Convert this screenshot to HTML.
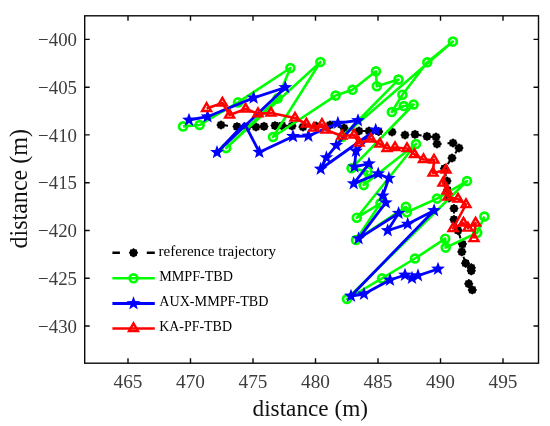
<!DOCTYPE html>
<html lang="en"><head><meta charset="utf-8"><title>Trajectory comparison</title>
<style>html,body{margin:0;padding:0;background:#fff}svg{display:block}</style></head>
<body>
<svg width="550" height="426" viewBox="0 0 550 426">
<rect width="550" height="426" fill="#fff"/>
<polyline points="221.0,125.0 237.0,126.6 247.0,127.0 256.0,127.0 264.0,126.4 275.0,125.6 282.0,125.6 292.0,126.0 303.0,127.0 316.0,126.0 330.0,125.0 344.0,128.0 359.0,131.0 369.0,131.0 378.5,131.5 392.0,132.0 405.0,135.0 415.0,134.4 427.0,136.4 436.0,137.0 437.0,144.0 453.0,143.0 459.0,148.0 452.0,158.0 444.5,168.5 447.0,181.0 447.5,190.0 449.0,198.0 454.0,208.5 454.0,219.5 458.0,230.5 462.4,244.1 461.8,251.8 465.6,263.2 471.3,267.8 471.3,270.8 468.7,283.8 472.3,289.9" fill="none" stroke="#000" stroke-width="2" stroke-dasharray="7 6"/>
<g fill="#000"><polygon points="225.7,125.0 224.6,126.5 224.3,128.3 222.5,128.6 221.0,129.7 219.5,128.6 217.7,128.3 217.4,126.5 216.3,125.0 217.4,123.5 217.7,121.7 219.5,121.4 221.0,120.3 222.5,121.4 224.3,121.7 224.6,123.5"/><polygon points="241.7,126.6 240.6,128.1 240.3,129.9 238.5,130.2 237.0,131.3 235.5,130.2 233.7,129.9 233.4,128.1 232.3,126.6 233.4,125.1 233.7,123.3 235.5,123.0 237.0,121.9 238.5,123.0 240.3,123.3 240.6,125.1"/><polygon points="251.7,127.0 250.6,128.5 250.3,130.3 248.5,130.6 247.0,131.7 245.5,130.6 243.7,130.3 243.4,128.5 242.3,127.0 243.4,125.5 243.7,123.7 245.5,123.4 247.0,122.3 248.5,123.4 250.3,123.7 250.6,125.5"/><polygon points="260.7,127.0 259.6,128.5 259.3,130.3 257.5,130.6 256.0,131.7 254.5,130.6 252.7,130.3 252.4,128.5 251.3,127.0 252.4,125.5 252.7,123.7 254.5,123.4 256.0,122.3 257.5,123.4 259.3,123.7 259.6,125.5"/><polygon points="268.7,126.4 267.6,127.9 267.3,129.7 265.5,130.0 264.0,131.1 262.5,130.0 260.7,129.7 260.4,127.9 259.3,126.4 260.4,124.9 260.7,123.1 262.5,122.8 264.0,121.7 265.5,122.8 267.3,123.1 267.6,124.9"/><polygon points="279.7,125.6 278.6,127.1 278.3,128.9 276.5,129.2 275.0,130.3 273.5,129.2 271.7,128.9 271.4,127.1 270.3,125.6 271.4,124.1 271.7,122.3 273.5,122.0 275.0,120.9 276.5,122.0 278.3,122.3 278.6,124.1"/><polygon points="286.7,125.6 285.6,127.1 285.3,128.9 283.5,129.2 282.0,130.3 280.5,129.2 278.7,128.9 278.4,127.1 277.3,125.6 278.4,124.1 278.7,122.3 280.5,122.0 282.0,120.9 283.5,122.0 285.3,122.3 285.6,124.1"/><polygon points="296.7,126.0 295.6,127.5 295.3,129.3 293.5,129.6 292.0,130.7 290.5,129.6 288.7,129.3 288.4,127.5 287.3,126.0 288.4,124.5 288.7,122.7 290.5,122.4 292.0,121.3 293.5,122.4 295.3,122.7 295.6,124.5"/><polygon points="307.7,127.0 306.6,128.5 306.3,130.3 304.5,130.6 303.0,131.7 301.5,130.6 299.7,130.3 299.4,128.5 298.3,127.0 299.4,125.5 299.7,123.7 301.5,123.4 303.0,122.3 304.5,123.4 306.3,123.7 306.6,125.5"/><polygon points="320.7,126.0 319.6,127.5 319.3,129.3 317.5,129.6 316.0,130.7 314.5,129.6 312.7,129.3 312.4,127.5 311.3,126.0 312.4,124.5 312.7,122.7 314.5,122.4 316.0,121.3 317.5,122.4 319.3,122.7 319.6,124.5"/><polygon points="334.7,125.0 333.6,126.5 333.3,128.3 331.5,128.6 330.0,129.7 328.5,128.6 326.7,128.3 326.4,126.5 325.3,125.0 326.4,123.5 326.7,121.7 328.5,121.4 330.0,120.3 331.5,121.4 333.3,121.7 333.6,123.5"/><polygon points="348.7,128.0 347.6,129.5 347.3,131.3 345.5,131.6 344.0,132.7 342.5,131.6 340.7,131.3 340.4,129.5 339.3,128.0 340.4,126.5 340.7,124.7 342.5,124.4 344.0,123.3 345.5,124.4 347.3,124.7 347.6,126.5"/><polygon points="363.7,131.0 362.6,132.5 362.3,134.3 360.5,134.6 359.0,135.7 357.5,134.6 355.7,134.3 355.4,132.5 354.3,131.0 355.4,129.5 355.7,127.7 357.5,127.4 359.0,126.3 360.5,127.4 362.3,127.7 362.6,129.5"/><polygon points="373.7,131.0 372.6,132.5 372.3,134.3 370.5,134.6 369.0,135.7 367.5,134.6 365.7,134.3 365.4,132.5 364.3,131.0 365.4,129.5 365.7,127.7 367.5,127.4 369.0,126.3 370.5,127.4 372.3,127.7 372.6,129.5"/><polygon points="383.2,131.5 382.1,133.0 381.8,134.8 380.0,135.1 378.5,136.2 377.0,135.1 375.2,134.8 374.9,133.0 373.8,131.5 374.9,130.0 375.2,128.2 377.0,127.9 378.5,126.8 380.0,127.9 381.8,128.2 382.1,130.0"/><polygon points="396.7,132.0 395.6,133.5 395.3,135.3 393.5,135.6 392.0,136.7 390.5,135.6 388.7,135.3 388.4,133.5 387.3,132.0 388.4,130.5 388.7,128.7 390.5,128.4 392.0,127.3 393.5,128.4 395.3,128.7 395.6,130.5"/><polygon points="409.7,135.0 408.6,136.5 408.3,138.3 406.5,138.6 405.0,139.7 403.5,138.6 401.7,138.3 401.4,136.5 400.3,135.0 401.4,133.5 401.7,131.7 403.5,131.4 405.0,130.3 406.5,131.4 408.3,131.7 408.6,133.5"/><polygon points="419.7,134.4 418.6,135.9 418.3,137.7 416.5,138.0 415.0,139.1 413.5,138.0 411.7,137.7 411.4,135.9 410.3,134.4 411.4,132.9 411.7,131.1 413.5,130.8 415.0,129.7 416.5,130.8 418.3,131.1 418.6,132.9"/><polygon points="431.7,136.4 430.6,137.9 430.3,139.7 428.5,140.0 427.0,141.1 425.5,140.0 423.7,139.7 423.4,137.9 422.3,136.4 423.4,134.9 423.7,133.1 425.5,132.8 427.0,131.7 428.5,132.8 430.3,133.1 430.6,134.9"/><polygon points="440.7,137.0 439.6,138.5 439.3,140.3 437.5,140.6 436.0,141.7 434.5,140.6 432.7,140.3 432.4,138.5 431.3,137.0 432.4,135.5 432.7,133.7 434.5,133.4 436.0,132.3 437.5,133.4 439.3,133.7 439.6,135.5"/><polygon points="441.7,144.0 440.6,145.5 440.3,147.3 438.5,147.6 437.0,148.7 435.5,147.6 433.7,147.3 433.4,145.5 432.3,144.0 433.4,142.5 433.7,140.7 435.5,140.4 437.0,139.3 438.5,140.4 440.3,140.7 440.6,142.5"/><polygon points="457.7,143.0 456.6,144.5 456.3,146.3 454.5,146.6 453.0,147.7 451.5,146.6 449.7,146.3 449.4,144.5 448.3,143.0 449.4,141.5 449.7,139.7 451.5,139.4 453.0,138.3 454.5,139.4 456.3,139.7 456.6,141.5"/><polygon points="463.7,148.0 462.6,149.5 462.3,151.3 460.5,151.6 459.0,152.7 457.5,151.6 455.7,151.3 455.4,149.5 454.3,148.0 455.4,146.5 455.7,144.7 457.5,144.4 459.0,143.3 460.5,144.4 462.3,144.7 462.6,146.5"/><polygon points="456.7,158.0 455.6,159.5 455.3,161.3 453.5,161.6 452.0,162.7 450.5,161.6 448.7,161.3 448.4,159.5 447.3,158.0 448.4,156.5 448.7,154.7 450.5,154.4 452.0,153.3 453.5,154.4 455.3,154.7 455.6,156.5"/><polygon points="449.2,168.5 448.1,170.0 447.8,171.8 446.0,172.1 444.5,173.2 443.0,172.1 441.2,171.8 440.9,170.0 439.8,168.5 440.9,167.0 441.2,165.2 443.0,164.9 444.5,163.8 446.0,164.9 447.8,165.2 448.1,167.0"/><polygon points="451.7,181.0 450.6,182.5 450.3,184.3 448.5,184.6 447.0,185.7 445.5,184.6 443.7,184.3 443.4,182.5 442.3,181.0 443.4,179.5 443.7,177.7 445.5,177.4 447.0,176.3 448.5,177.4 450.3,177.7 450.6,179.5"/><polygon points="452.2,190.0 451.1,191.5 450.8,193.3 449.0,193.6 447.5,194.7 446.0,193.6 444.2,193.3 443.9,191.5 442.8,190.0 443.9,188.5 444.2,186.7 446.0,186.4 447.5,185.3 449.0,186.4 450.8,186.7 451.1,188.5"/><polygon points="453.7,198.0 452.6,199.5 452.3,201.3 450.5,201.6 449.0,202.7 447.5,201.6 445.7,201.3 445.4,199.5 444.3,198.0 445.4,196.5 445.7,194.7 447.5,194.4 449.0,193.3 450.5,194.4 452.3,194.7 452.6,196.5"/><polygon points="458.7,208.5 457.6,210.0 457.3,211.8 455.5,212.1 454.0,213.2 452.5,212.1 450.7,211.8 450.4,210.0 449.3,208.5 450.4,207.0 450.7,205.2 452.5,204.9 454.0,203.8 455.5,204.9 457.3,205.2 457.6,207.0"/><polygon points="458.7,219.5 457.6,221.0 457.3,222.8 455.5,223.1 454.0,224.2 452.5,223.1 450.7,222.8 450.4,221.0 449.3,219.5 450.4,218.0 450.7,216.2 452.5,215.9 454.0,214.8 455.5,215.9 457.3,216.2 457.6,218.0"/><polygon points="462.7,230.5 461.6,232.0 461.3,233.8 459.5,234.1 458.0,235.2 456.5,234.1 454.7,233.8 454.4,232.0 453.3,230.5 454.4,229.0 454.7,227.2 456.5,226.9 458.0,225.8 459.5,226.9 461.3,227.2 461.6,229.0"/><polygon points="467.1,244.1 466.0,245.6 465.7,247.4 463.9,247.7 462.4,248.8 460.9,247.7 459.1,247.4 458.8,245.6 457.7,244.1 458.8,242.6 459.1,240.8 460.9,240.5 462.4,239.4 463.9,240.5 465.7,240.8 466.0,242.6"/><polygon points="466.5,251.8 465.4,253.3 465.1,255.1 463.3,255.4 461.8,256.5 460.3,255.4 458.5,255.1 458.2,253.3 457.1,251.8 458.2,250.3 458.5,248.5 460.3,248.2 461.8,247.1 463.3,248.2 465.1,248.5 465.4,250.3"/><polygon points="470.3,263.2 469.2,264.7 468.9,266.5 467.1,266.8 465.6,267.9 464.1,266.8 462.3,266.5 462.0,264.7 460.9,263.2 462.0,261.7 462.3,259.9 464.1,259.6 465.6,258.5 467.1,259.6 468.9,259.9 469.2,261.7"/><polygon points="476.0,267.8 474.9,269.3 474.6,271.1 472.8,271.4 471.3,272.5 469.8,271.4 468.0,271.1 467.7,269.3 466.6,267.8 467.7,266.3 468.0,264.5 469.8,264.2 471.3,263.1 472.8,264.2 474.6,264.5 474.9,266.3"/><polygon points="476.0,270.8 474.9,272.3 474.6,274.1 472.8,274.4 471.3,275.5 469.8,274.4 468.0,274.1 467.7,272.3 466.6,270.8 467.7,269.3 468.0,267.5 469.8,267.2 471.3,266.1 472.8,267.2 474.6,267.5 474.9,269.3"/><polygon points="473.4,283.8 472.3,285.3 472.0,287.1 470.2,287.4 468.7,288.5 467.2,287.4 465.4,287.1 465.1,285.3 464.0,283.8 465.1,282.3 465.4,280.5 467.2,280.2 468.7,279.1 470.2,280.2 472.0,280.5 472.3,282.3"/><polygon points="477.0,289.9 475.9,291.4 475.6,293.2 473.8,293.5 472.3,294.6 470.8,293.5 469.0,293.2 468.7,291.4 467.6,289.9 468.7,288.4 469.0,286.6 470.8,286.3 472.3,285.2 473.8,286.3 475.6,286.6 475.9,288.4"/></g>
<polyline points="183.0,126.4 199.6,125.0 238.0,102.4 290.4,68.0 277.6,98.4 226.2,148.1 320.4,62.0 273.0,137.0 335.6,95.6 352.5,89.8 376.0,71.3 376.8,86.2 398.5,79.6 342.0,137.0 452.9,41.6 427.3,62.3 402.4,94.7 391.8,112.0 403.8,106.0 413.6,104.5 351.5,168.3 367.5,171.4 363.7,185.1 416.0,144.0 356.8,217.7 380.5,203.3 356.0,240.0 405.9,206.8 406.8,212.3 437.0,198.6 467.0,181.0 347.0,299.0 382.0,278.4 415.0,258.5 445.2,238.7 445.7,247.6 477.2,232.8 484.4,216.5" fill="none" stroke="#00ff00" stroke-width="2.6" stroke-linejoin="round"/>
<g fill="none" stroke="#00ff00" stroke-width="2.7"><circle cx="183.0" cy="126.4" r="3.95"/><circle cx="199.6" cy="125.0" r="3.95"/><circle cx="238.0" cy="102.4" r="3.95"/><circle cx="290.4" cy="68.0" r="3.95"/><circle cx="277.6" cy="98.4" r="3.95"/><circle cx="226.2" cy="148.1" r="3.95"/><circle cx="320.4" cy="62.0" r="3.95"/><circle cx="273.0" cy="137.0" r="3.95"/><circle cx="335.6" cy="95.6" r="3.95"/><circle cx="352.5" cy="89.8" r="3.95"/><circle cx="376.0" cy="71.3" r="3.95"/><circle cx="376.8" cy="86.2" r="3.95"/><circle cx="398.5" cy="79.6" r="3.95"/><circle cx="342.0" cy="137.0" r="3.95"/><circle cx="452.9" cy="41.6" r="3.95"/><circle cx="427.3" cy="62.3" r="3.95"/><circle cx="402.4" cy="94.7" r="3.95"/><circle cx="391.8" cy="112.0" r="3.95"/><circle cx="403.8" cy="106.0" r="3.95"/><circle cx="413.6" cy="104.5" r="3.95"/><circle cx="351.5" cy="168.3" r="3.95"/><circle cx="367.5" cy="171.4" r="3.95"/><circle cx="363.7" cy="185.1" r="3.95"/><circle cx="416.0" cy="144.0" r="3.95"/><circle cx="356.8" cy="217.7" r="3.95"/><circle cx="380.5" cy="203.3" r="3.95"/><circle cx="356.0" cy="240.0" r="3.95"/><circle cx="405.9" cy="206.8" r="3.95"/><circle cx="406.8" cy="212.3" r="3.95"/><circle cx="437.0" cy="198.6" r="3.95"/><circle cx="467.0" cy="181.0" r="3.95"/><circle cx="347.0" cy="299.0" r="3.95"/><circle cx="382.0" cy="278.4" r="3.95"/><circle cx="415.0" cy="258.5" r="3.95"/><circle cx="445.2" cy="238.7" r="3.95"/><circle cx="445.7" cy="247.6" r="3.95"/><circle cx="477.2" cy="232.8" r="3.95"/><circle cx="484.4" cy="216.5" r="3.95"/></g>
<polyline points="189.0,120.0 207.5,116.7 253.6,97.9 285.3,87.5 217.0,152.4 244.5,123.5 259.3,152.2 293.0,136.4 308.4,136.0 337.9,123.1 358.0,120.5 336.3,145.3 326.4,157.6 320.7,169.0 375.7,130.0 356.0,151.0 354.5,166.8 369.0,163.7 353.7,183.6 378.2,173.7 388.9,178.2 382.7,195.8 385.8,202.7 358.6,238.6 398.6,213.2 387.7,230.5 407.7,224.1 434.1,210.5 351.0,296.0 364.0,294.0 390.0,280.0 405.0,275.0 412.0,278.0 418.0,275.6 438.0,269.0" fill="none" stroke="#0000ff" stroke-width="2.8" stroke-linejoin="round"/>
<g fill="#0000ff"><polygon points="189.0,112.7 190.8,117.6 195.9,117.7 191.9,120.9 193.3,125.9 189.0,123.0 184.7,125.9 186.1,120.9 182.1,117.7 187.2,117.6"/><polygon points="207.5,109.4 209.3,114.3 214.4,114.4 210.4,117.6 211.8,122.6 207.5,119.7 203.2,122.6 204.6,117.6 200.6,114.4 205.7,114.3"/><polygon points="253.6,90.6 255.4,95.5 260.5,95.6 256.5,98.8 257.9,103.8 253.6,100.9 249.3,103.8 250.7,98.8 246.7,95.6 251.8,95.5"/><polygon points="285.3,80.2 287.1,85.1 292.2,85.2 288.2,88.4 289.6,93.4 285.3,90.5 281.0,93.4 282.4,88.4 278.4,85.2 283.5,85.1"/><polygon points="217.0,145.1 218.8,150.0 223.9,150.1 219.9,153.3 221.3,158.3 217.0,155.4 212.7,158.3 214.1,153.3 210.1,150.1 215.2,150.0"/><polygon points="259.3,144.9 261.1,149.8 266.2,149.9 262.2,153.1 263.6,158.1 259.3,155.2 255.0,158.1 256.4,153.1 252.4,149.9 257.5,149.8"/><polygon points="293.0,129.1 294.8,134.0 299.9,134.1 295.9,137.3 297.3,142.3 293.0,139.4 288.7,142.3 290.1,137.3 286.1,134.1 291.2,134.0"/><polygon points="308.4,128.7 310.2,133.6 315.3,133.7 311.3,136.9 312.7,141.9 308.4,139.0 304.1,141.9 305.5,136.9 301.5,133.7 306.6,133.6"/><polygon points="337.9,115.8 339.7,120.7 344.8,120.8 340.8,124.0 342.2,129.0 337.9,126.1 333.6,129.0 335.0,124.0 331.0,120.8 336.1,120.7"/><polygon points="358.0,113.2 359.8,118.1 364.9,118.2 360.9,121.4 362.3,126.4 358.0,123.5 353.7,126.4 355.1,121.4 351.1,118.2 356.2,118.1"/><polygon points="336.3,138.0 338.1,142.9 343.2,143.0 339.2,146.2 340.6,151.2 336.3,148.3 332.0,151.2 333.4,146.2 329.4,143.0 334.5,142.9"/><polygon points="326.4,150.3 328.2,155.2 333.3,155.3 329.3,158.5 330.7,163.5 326.4,160.6 322.1,163.5 323.5,158.5 319.5,155.3 324.6,155.2"/><polygon points="320.7,161.7 322.5,166.6 327.6,166.7 323.6,169.9 325.0,174.9 320.7,172.0 316.4,174.9 317.8,169.9 313.8,166.7 318.9,166.6"/><polygon points="375.7,122.7 377.5,127.6 382.6,127.7 378.6,130.9 380.0,135.9 375.7,133.0 371.4,135.9 372.8,130.9 368.8,127.7 373.9,127.6"/><polygon points="356.0,143.7 357.8,148.6 362.9,148.7 358.9,151.9 360.3,156.9 356.0,154.0 351.7,156.9 353.1,151.9 349.1,148.7 354.2,148.6"/><polygon points="354.5,159.5 356.3,164.4 361.4,164.5 357.4,167.7 358.8,172.7 354.5,169.8 350.2,172.7 351.6,167.7 347.6,164.5 352.7,164.4"/><polygon points="369.0,156.4 370.8,161.3 375.9,161.4 371.9,164.6 373.3,169.6 369.0,166.7 364.7,169.6 366.1,164.6 362.1,161.4 367.2,161.3"/><polygon points="353.7,176.3 355.5,181.2 360.6,181.3 356.6,184.5 358.0,189.5 353.7,186.6 349.4,189.5 350.8,184.5 346.8,181.3 351.9,181.2"/><polygon points="378.2,166.4 380.0,171.3 385.1,171.4 381.1,174.6 382.5,179.6 378.2,176.7 373.9,179.6 375.3,174.6 371.3,171.4 376.4,171.3"/><polygon points="388.9,170.9 390.7,175.8 395.8,175.9 391.8,179.1 393.2,184.1 388.9,181.2 384.6,184.1 386.0,179.1 382.0,175.9 387.1,175.8"/><polygon points="382.7,188.5 384.5,193.4 389.6,193.5 385.6,196.7 387.0,201.7 382.7,198.8 378.4,201.7 379.8,196.7 375.8,193.5 380.9,193.4"/><polygon points="385.8,195.4 387.6,200.3 392.7,200.4 388.7,203.6 390.1,208.6 385.8,205.7 381.5,208.6 382.9,203.6 378.9,200.4 384.0,200.3"/><polygon points="358.6,231.3 360.4,236.2 365.5,236.3 361.5,239.5 362.9,244.5 358.6,241.6 354.3,244.5 355.7,239.5 351.7,236.3 356.8,236.2"/><polygon points="398.6,205.9 400.4,210.8 405.5,210.9 401.5,214.1 402.9,219.1 398.6,216.2 394.3,219.1 395.7,214.1 391.7,210.9 396.8,210.8"/><polygon points="387.7,223.2 389.5,228.1 394.6,228.2 390.6,231.4 392.0,236.4 387.7,233.5 383.4,236.4 384.8,231.4 380.8,228.2 385.9,228.1"/><polygon points="407.7,216.8 409.5,221.7 414.6,221.8 410.6,225.0 412.0,230.0 407.7,227.1 403.4,230.0 404.8,225.0 400.8,221.8 405.9,221.7"/><polygon points="434.1,203.2 435.9,208.1 441.0,208.2 437.0,211.4 438.4,216.4 434.1,213.5 429.8,216.4 431.2,211.4 427.2,208.2 432.3,208.1"/><polygon points="351.0,288.7 352.8,293.6 357.9,293.7 353.9,296.9 355.3,301.9 351.0,299.0 346.7,301.9 348.1,296.9 344.1,293.7 349.2,293.6"/><polygon points="364.0,286.7 365.8,291.6 370.9,291.7 366.9,294.9 368.3,299.9 364.0,297.0 359.7,299.9 361.1,294.9 357.1,291.7 362.2,291.6"/><polygon points="390.0,272.7 391.8,277.6 396.9,277.7 392.9,280.9 394.3,285.9 390.0,283.0 385.7,285.9 387.1,280.9 383.1,277.7 388.2,277.6"/><polygon points="405.0,267.7 406.8,272.6 411.9,272.7 407.9,275.9 409.3,280.9 405.0,278.0 400.7,280.9 402.1,275.9 398.1,272.7 403.2,272.6"/><polygon points="412.0,270.7 413.8,275.6 418.9,275.7 414.9,278.9 416.3,283.9 412.0,281.0 407.7,283.9 409.1,278.9 405.1,275.7 410.2,275.6"/><polygon points="418.0,268.3 419.8,273.2 424.9,273.3 420.9,276.5 422.3,281.5 418.0,278.6 413.7,281.5 415.1,276.5 411.1,273.3 416.2,273.2"/><polygon points="438.0,261.7 439.8,266.6 444.9,266.7 440.9,269.9 442.3,274.9 438.0,272.0 433.7,274.9 435.1,269.9 431.1,266.7 436.2,266.6"/></g>
<polyline points="206.6,108.4 222.4,103.0 229.6,115.0 245.6,109.0 258.0,113.6 271.0,113.0 295.0,118.0 306.4,124.0 314.0,128.0 322.0,124.4 326.0,130.0 342.0,136.0 354.0,135.0 359.0,143.0 371.0,139.0 380.0,144.0 387.0,148.5 395.0,147.5 407.0,148.5 414.5,154.5 423.5,159.5 434.0,160.0 433.0,173.0 446.0,170.0 443.0,183.0 447.0,191.0 448.0,197.0 458.0,199.0 466.0,204.5 453.0,228.5 463.5,223.0 468.0,228.0 475.6,223.0 474.0,238.5" fill="none" stroke="#ff0000" stroke-width="2.6" stroke-linejoin="round"/>
<g fill="none" stroke="#ff0000" stroke-width="2.4" stroke-linejoin="miter"><polygon points="206.6,103.2 202.1,111.0 211.1,111.0"/><polygon points="222.4,97.8 217.9,105.6 226.9,105.6"/><polygon points="229.6,109.8 225.1,117.6 234.1,117.6"/><polygon points="245.6,103.8 241.1,111.6 250.1,111.6"/><polygon points="258.0,108.4 253.5,116.2 262.5,116.2"/><polygon points="271.0,107.8 266.5,115.6 275.5,115.6"/><polygon points="295.0,112.8 290.5,120.6 299.5,120.6"/><polygon points="306.4,118.8 301.9,126.6 310.9,126.6"/><polygon points="314.0,122.8 309.5,130.6 318.5,130.6"/><polygon points="322.0,119.2 317.5,127.0 326.5,127.0"/><polygon points="326.0,124.8 321.5,132.6 330.5,132.6"/><polygon points="342.0,130.8 337.5,138.6 346.5,138.6"/><polygon points="354.0,129.8 349.5,137.6 358.5,137.6"/><polygon points="359.0,137.8 354.5,145.6 363.5,145.6"/><polygon points="371.0,133.8 366.5,141.6 375.5,141.6"/><polygon points="380.0,138.8 375.5,146.6 384.5,146.6"/><polygon points="387.0,143.3 382.5,151.1 391.5,151.1"/><polygon points="395.0,142.3 390.5,150.1 399.5,150.1"/><polygon points="407.0,143.3 402.5,151.1 411.5,151.1"/><polygon points="414.5,149.3 410.0,157.1 419.0,157.1"/><polygon points="423.5,154.3 419.0,162.1 428.0,162.1"/><polygon points="434.0,154.8 429.5,162.6 438.5,162.6"/><polygon points="433.0,167.8 428.5,175.6 437.5,175.6"/><polygon points="446.0,164.8 441.5,172.6 450.5,172.6"/><polygon points="443.0,177.8 438.5,185.6 447.5,185.6"/><polygon points="447.0,185.8 442.5,193.6 451.5,193.6"/><polygon points="448.0,191.8 443.5,199.6 452.5,199.6"/><polygon points="458.0,193.8 453.5,201.6 462.5,201.6"/><polygon points="466.0,199.3 461.5,207.1 470.5,207.1"/><polygon points="453.0,223.3 448.5,231.1 457.5,231.1"/><polygon points="463.5,217.8 459.0,225.6 468.0,225.6"/><polygon points="468.0,222.8 463.5,230.6 472.5,230.6"/><polygon points="475.6,217.8 471.1,225.6 480.1,225.6"/><polygon points="474.0,233.3 469.5,241.1 478.5,241.1"/></g>
<rect x="84.7" y="15.8" width="453.8" height="347.4" fill="none" stroke="#0a0a0a" stroke-width="1.4"/>
<path d="M128.0 363.2v-5M128.0 15.8v5M190.5 363.2v-5M190.5 15.8v5M253.0 363.2v-5M253.0 15.8v5M315.5 363.2v-5M315.5 15.8v5M378.0 363.2v-5M378.0 15.8v5M440.5 363.2v-5M440.5 15.8v5M503.0 363.2v-5M503.0 15.8v5M84.7 326.0h5M538.5 326.0h-5M84.7 278.2h5M538.5 278.2h-5M84.7 230.5h5M538.5 230.5h-5M84.7 182.7h5M538.5 182.7h-5M84.7 134.9h5M538.5 134.9h-5M84.7 87.2h5M538.5 87.2h-5M84.7 39.4h5M538.5 39.4h-5" stroke="#0a0a0a" stroke-width="1.4" fill="none"/>
<g font-family="'Liberation Serif', 'DejaVu Serif', serif" font-size="19.6" fill="#3c3c3c">
<text x="128.0" y="387.6" text-anchor="middle" textLength="28.9" lengthAdjust="spacingAndGlyphs">465</text>
<text x="190.5" y="387.6" text-anchor="middle" textLength="28.9" lengthAdjust="spacingAndGlyphs">470</text>
<text x="253.0" y="387.6" text-anchor="middle" textLength="28.9" lengthAdjust="spacingAndGlyphs">475</text>
<text x="315.5" y="387.6" text-anchor="middle" textLength="28.9" lengthAdjust="spacingAndGlyphs">480</text>
<text x="378.0" y="387.6" text-anchor="middle" textLength="28.9" lengthAdjust="spacingAndGlyphs">485</text>
<text x="440.5" y="387.6" text-anchor="middle" textLength="28.9" lengthAdjust="spacingAndGlyphs">490</text>
<text x="503.0" y="387.6" text-anchor="middle" textLength="28.9" lengthAdjust="spacingAndGlyphs">495</text>
<text x="77" y="332.7" text-anchor="end" textLength="38.9" lengthAdjust="spacingAndGlyphs">−430</text>
<text x="77" y="284.9" text-anchor="end" textLength="38.9" lengthAdjust="spacingAndGlyphs">−425</text>
<text x="77" y="237.2" text-anchor="end" textLength="38.9" lengthAdjust="spacingAndGlyphs">−420</text>
<text x="77" y="189.4" text-anchor="end" textLength="38.9" lengthAdjust="spacingAndGlyphs">−415</text>
<text x="77" y="141.6" text-anchor="end" textLength="38.9" lengthAdjust="spacingAndGlyphs">−410</text>
<text x="77" y="93.9" text-anchor="end" textLength="38.9" lengthAdjust="spacingAndGlyphs">−405</text>
<text x="77" y="46.1" text-anchor="end" textLength="38.9" lengthAdjust="spacingAndGlyphs">−400</text>
</g>
<g font-family="'Liberation Serif', 'DejaVu Serif', serif" font-size="23.5" fill="#111">
<text x="310.3" y="415.5" text-anchor="middle" textLength="115.5" lengthAdjust="spacingAndGlyphs">distance (m)</text>
<text transform="translate(26.5,188.8) rotate(-90)" font-size="25" text-anchor="middle" textLength="119.5" lengthAdjust="spacingAndGlyphs">distance (m)</text>
</g>
<path d="M112.4 252.8h7.5M154.8 252.8h-8" stroke="#000" stroke-width="2.4"/>
<polygon points="138.2,252.8 137.1,254.3 136.8,256.1 135.0,256.4 133.5,257.5 132.0,256.4 130.2,256.1 129.9,254.3 128.8,252.8 129.9,251.3 130.2,249.5 132.0,249.2 133.5,248.1 135.0,249.2 136.8,249.5 137.1,251.3" fill="#000"/>
<path d="M112.4 278.3H154.8" stroke="#00ff00" stroke-width="2.6"/><circle cx="133.5" cy="278.3" r="3.95" fill="none" stroke="#00ff00" stroke-width="2.6"/>
<path d="M112.4 303.5H154.8" stroke="#0000ff" stroke-width="2.8"/><polygon points="133.5,296.2 135.3,301.1 140.4,301.2 136.4,304.4 137.8,309.4 133.5,306.5 129.2,309.4 130.6,304.4 126.6,301.2 131.7,301.1" fill="#0000ff"/>
<path d="M112.4 328.5H154.8" stroke="#ff0000" stroke-width="2.6"/><polygon points="133.5,323.3 129.0,331.1 138.0,331.1" fill="none" stroke="#ff0000" stroke-width="2.4"/>
<g font-family="'Liberation Serif', 'DejaVu Serif', serif" font-size="14.5" fill="#000">
<text x="158.5" y="256.1" textLength="117.5" lengthAdjust="spacingAndGlyphs">reference trajectory</text>
<text x="159.2" y="281.2" textLength="73.8" lengthAdjust="spacingAndGlyphs">MMPF-TBD</text>
<text x="159.2" y="305.9" textLength="109.3" lengthAdjust="spacingAndGlyphs">AUX-MMPF-TBD</text>
<text x="159.2" y="331.0" textLength="72.8" lengthAdjust="spacingAndGlyphs">KA-PF-TBD</text>
</g>
</svg>
</body></html>
